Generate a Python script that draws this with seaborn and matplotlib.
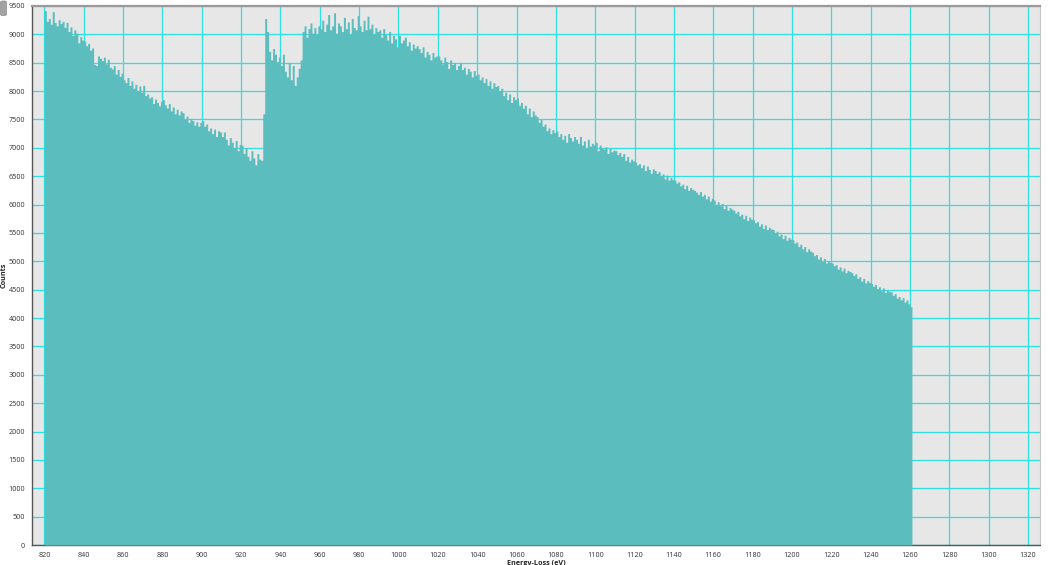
import numpy as np
import pandas as pd
import matplotlib
matplotlib.use("Agg")
import matplotlib.pyplot as plt
from matplotlib.patches import FancyBboxPatch
import seaborn as sns

# spectrum, one channel per eV starting at 820 eV
energy_start = 820
counts_820 = [9420, 9230, 9280, 9180, 9400, 9210, 9150, 9260, 9190, 9230]
counts_830 = [9120, 9210, 9050, 9130, 8980, 9080, 9020, 8850, 8960, 8900]
counts_840 = [8880, 8800, 8840, 8720, 8760, 8470, 8450, 8620, 8580, 8540]
counts_850 = [8600, 8480, 8560, 8420, 8390, 8450, 8300, 8380, 8260, 8320]
counts_860 = [8200, 8150, 8240, 8100, 8180, 8050, 8120, 8000, 8090, 7980]
counts_870 = [8100, 7920, 7950, 7880, 7900, 7780, 7860, 7800, 7740, 7820]
counts_880 = [7850, 7760, 7700, 7780, 7650, 7720, 7600, 7680, 7580, 7650]
counts_890 = [7620, 7500, 7560, 7450, 7520, 7480, 7400, 7460, 7380, 7450]
counts_900 = [7480, 7380, 7420, 7300, 7350, 7250, 7330, 7200, 7300, 7280]
counts_910 = [7200, 7280, 7150, 7050, 7180, 7100, 7000, 7130, 6950, 7060]
counts_920 = [7050, 6900, 7000, 6850, 6780, 6950, 6820, 6700, 6900, 6800]
counts_930 = [6780, 7600, 9280, 9050, 8700, 8550, 8750, 8650, 8520, 8600]
counts_940 = [8450, 8650, 8350, 8250, 8500, 8200, 8450, 8100, 8250, 8400]
counts_950 = [8550, 9050, 9150, 8950, 9100, 9200, 9020, 9120, 9000, 9150]
counts_960 = [9100, 9250, 9050, 9180, 9350, 9080, 9150, 9380, 9020, 9200]
counts_970 = [9150, 9050, 9300, 9100, 9220, 9000, 9280, 9120, 9080, 9330]
counts_980 = [9150, 9050, 9250, 9080, 9320, 9100, 9180, 9000, 9120, 9050]
counts_990 = [9080, 8950, 9100, 9000, 8900, 9050, 8850, 8980, 8920, 8780]
counts_1000 = [8980, 8850, 8900, 8950, 8800, 8870, 8720, 8830, 8760, 8800]
counts_1010 = [8750, 8680, 8780, 8600, 8700, 8650, 8550, 8680, 8600, 8620]
counts_1020 = [8620, 8550, 8480, 8600, 8520, 8400, 8550, 8470, 8500, 8380]
counts_1030 = [8450, 8500, 8380, 8420, 8300, 8400, 8350, 8250, 8360, 8280]
counts_1040 = [8300, 8200, 8250, 8150, 8220, 8100, 8180, 8050, 8150, 8080]
counts_1050 = [8100, 8000, 8050, 7920, 7980, 7850, 7950, 7800, 7900, 7850]
counts_1060 = [7880, 7750, 7800, 7700, 7750, 7600, 7700, 7550, 7650, 7580]
counts_1070 = [7550, 7450, 7500, 7380, 7420, 7300, 7350, 7250, 7320, 7270]
counts_1080 = [7300, 7200, 7250, 7150, 7220, 7100, 7250, 7180, 7120, 7200]
counts_1090 = [7150, 7080, 7200, 7050, 7120, 7000, 7150, 7030, 7080, 7050]
counts_1100 = [7100, 6950, 7050, 7000, 6980, 7020, 6900, 7000, 6930, 6960]
counts_1110 = [6950, 6880, 6920, 6850, 6900, 6780, 6850, 6750, 6800, 6770]
counts_1120 = [6750, 6700, 6720, 6650, 6700, 6600, 6680, 6620, 6550, 6630]
counts_1130 = [6600, 6550, 6580, 6500, 6540, 6450, 6520, 6430, 6480, 6440]
counts_1140 = [6430, 6380, 6400, 6330, 6360, 6280, 6340, 6250, 6300, 6270]
counts_1150 = [6250, 6220, 6180, 6230, 6150, 6180, 6100, 6150, 6060, 6110]
counts_1160 = [6080, 6000, 6050, 5980, 6020, 5930, 5990, 5900, 5950, 5920]
counts_1170 = [5900, 5850, 5880, 5800, 5830, 5750, 5810, 5720, 5780, 5740]
counts_1180 = [5730, 5680, 5700, 5620, 5660, 5580, 5640, 5560, 5600, 5570]
counts_1190 = [5560, 5500, 5530, 5450, 5480, 5400, 5460, 5370, 5420, 5390]
counts_1200 = [5380, 5320, 5340, 5260, 5300, 5220, 5260, 5170, 5220, 5180]
counts_1210 = [5160, 5100, 5120, 5040, 5080, 5000, 5050, 4970, 5010, 4980]
counts_1220 = [4970, 4920, 4940, 4860, 4900, 4830, 4880, 4800, 4840, 4820]
counts_1230 = [4800, 4750, 4780, 4700, 4730, 4650, 4700, 4620, 4660, 4630]
counts_1240 = [4610, 4560, 4590, 4520, 4550, 4480, 4530, 4450, 4490, 4470]
counts_1250 = [4460, 4400, 4430, 4350, 4380, 4320, 4360, 4280, 4320, 4250]
counts_1260 = [4200]

x_ticks = list(range(820, 1321, 20))
y_ticks = list(range(0, 9501, 500))

counts = (counts_820 + counts_830 + counts_840 + counts_850 + counts_860 + counts_870
          + counts_880 + counts_890 + counts_900 + counts_910 + counts_920 + counts_930
          + counts_940 + counts_950 + counts_960 + counts_970 + counts_980 + counts_990
          + counts_1000 + counts_1010 + counts_1020 + counts_1030 + counts_1040
          + counts_1050 + counts_1060 + counts_1070 + counts_1080 + counts_1090
          + counts_1100 + counts_1110 + counts_1120 + counts_1130 + counts_1140
          + counts_1150 + counts_1160 + counts_1170 + counts_1180 + counts_1190
          + counts_1200 + counts_1210 + counts_1220 + counts_1230 + counts_1240
          + counts_1250 + counts_1260)
df = pd.DataFrame({
    'energy': np.arange(len(counts)) + energy_start + 0.5,
    'counts': counts,
})

sns.set_style("white")
plt.rcParams['font.family'] = ['Open Sans', 'DejaVu Sans']

fig = plt.figure(figsize=(10.5, 5.65), dpi=100)
ax = fig.add_axes([32 / 1050, 20 / 565, 1008 / 1050, 539 / 565])
ax.set_facecolor('#e7e7e7')

sns.histplot(data=df, x='energy', weights='counts', binwidth=1,
             binrange=(energy_start, energy_start + len(counts)),
             element='step', fill=True, color='#5bbdbd', alpha=1,
             linewidth=0, ax=ax, zorder=3)

ax.set_xlim(813.7, 1326.1)
ax.set_ylim(0, 9500)
ax.set_xticks(x_ticks)
ax.set_yticks(y_ticks)
ax.grid(True, color='#2ee0e0', linewidth=0.9, zorder=1)
ax.set_axisbelow(True)
ax.tick_params(labelsize=5.2, colors='#333333', length=3, width=0.6, pad=2)

ax.set_xlabel('Energy-Loss (eV)', fontsize=5.2, fontweight='bold')
ax.set_ylabel('Counts', fontsize=5.2, fontweight='bold')
ax.xaxis.set_label_coords(0.5, -0.0275)
ax.yaxis.set_label_coords(-0.024, 0.5)

for side in ['left', 'bottom']:
    ax.spines[side].set_color('#555555')
    ax.spines[side].set_linewidth(1)
ax.spines['top'].set_color('#9a9a9a')
ax.spines['top'].set_linewidth(1.6)
ax.spines['right'].set_color('#c8c8c8')
ax.spines['right'].set_linewidth(0.8)

# small grey handle in the top-left corner
fig.add_artist(FancyBboxPatch((0.5 / 1050, 1 - 15.5 / 565), 6 / 1050, 14.5 / 565,
                              boxstyle='round,pad=0,rounding_size=0.002',
                              transform=fig.transFigure, facecolor='#a3a3a3',
                              edgecolor='#8a8a8a', linewidth=0.5))

fig.savefig('out.png', dpi=100)
